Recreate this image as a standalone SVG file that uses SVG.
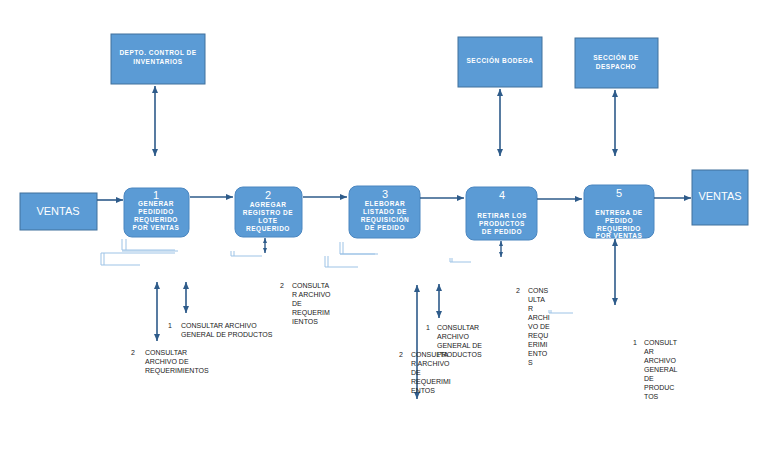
<svg xmlns="http://www.w3.org/2000/svg" width="768" height="466" viewBox="0 0 768 466">
<defs>
<marker id="ah" markerWidth="8" markerHeight="8" refX="7" refY="4" orient="auto-start-reverse" markerUnits="userSpaceOnUse"><path d="M0,1 L7,4 L0,7 Z" fill="#2e5b8a"/></marker>
<marker id="sm" markerWidth="6" markerHeight="6" refX="5" refY="3" orient="auto-start-reverse" markerUnits="userSpaceOnUse"><path d="M0,1 L5,3 L0,5 Z" fill="#2e5b8a"/></marker>
<style>
.ext{fill:#5b9bd5;stroke:#41719c;stroke-width:1}
.proc{fill:#5b9bd5;stroke:#4a86c0;stroke-width:1}
.t{font-family:"Liberation Sans",Arial,sans-serif;fill:#fff;font-weight:bold;font-size:6.5px;text-anchor:middle;letter-spacing:0.5px}
.big{font-family:"Liberation Sans",Arial,sans-serif;fill:#fff;font-size:11px;text-anchor:middle}
.c{stroke:#2e5b8a;stroke-width:1.6;fill:none}
.d{stroke:#2e5b8a;stroke-width:1.6;fill:none;marker-start:url(#ah);marker-end:url(#ah)}
.s{stroke:#2e5b8a;stroke-width:1.4;fill:none;marker-start:url(#sm);marker-end:url(#sm)}
.f{stroke:#9dc3e6;stroke-width:1;fill:none}
.l{font-family:"Liberation Sans",Arial,sans-serif;fill:#222;font-size:7px}
</style>
</defs>
<rect width="768" height="466" fill="#fff"/>
<g id="depto"><rect class="ext" x="111" y="34" width="94" height="50"/><text class="t" x="158" y="55">DEPTO. CONTROL DE</text><text class="t" x="158" y="64">INVENTARIOS</text></g>
<g id="bodega"><rect class="ext" x="458" y="37" width="84" height="50"/><text class="t" x="500" y="63">SECCIÓN BODEGA</text></g>
<g id="despacho"><rect class="ext" x="575" y="38" width="83" height="50"/><text class="t" x="616" y="60">SECCIÓN DE</text><text class="t" x="616" y="69">DESPACHO</text></g>
<g id="ventas1"><rect class="ext" x="20" y="193" width="77" height="37"/><text class="big" x="58" y="215">VENTAS</text></g>
<g id="ventas2"><rect class="ext" x="692" y="170" width="56" height="55"/><text class="big" x="720" y="200">VENTAS</text></g>
<g id="p1"><rect class="proc" x="124" y="188" width="65" height="49" rx="8"/><text class="big" x="156" y="199" font-size="9">1</text><text class="t" x="156" y="206">GENERAR</text><text class="t" x="156" y="214">PEDIDIDO</text><text class="t" x="156" y="222">REQUERIDO</text><text class="t" x="156" y="230">POR VENTAS</text></g>
<g id="p2"><rect class="proc" x="235" y="187" width="67" height="50" rx="8"/><text class="big" x="268" y="199" font-size="9">2</text><text class="t" x="268" y="207">AGREGAR</text><text class="t" x="268" y="215">REGISTRO DE</text><text class="t" x="268" y="223">LOTE</text><text class="t" x="268" y="231">REQUERIDO</text></g>
<g id="p3"><rect class="proc" x="349" y="186" width="71" height="52" rx="8"/><text class="big" x="385" y="198" font-size="9">3</text><text class="t" x="385" y="206">ELEBORAR</text><text class="t" x="385" y="214">LISTADO DE</text><text class="t" x="385" y="222">REQUISICIÓN</text><text class="t" x="385" y="230">DE PEDIDO</text></g>
<g id="p4"><rect class="proc" x="466" y="187" width="71" height="53" rx="8"/><text class="big" x="502" y="199" font-size="9">4</text><text class="t" x="502" y="218">RETIRAR LOS</text><text class="t" x="502" y="226">PRODUCTOS</text><text class="t" x="502" y="234">DE PEDIDO</text></g>
<g id="p5"><rect class="proc" x="584" y="185" width="70" height="53" rx="8"/><text class="big" x="619" y="197" font-size="9">5</text><text class="t" x="619" y="215">ENTREGA DE</text><text class="t" x="619" y="223">PEDIDO</text><text class="t" x="619" y="231">REQUERIDO</text><text class="t" x="619" y="238">POR VENTAS</text></g>
<g id="connectors">
<line class="d" x1="155" y1="86" x2="155" y2="156"/>
<line class="d" x1="500" y1="89" x2="500" y2="156"/>
<line class="d" x1="615" y1="90" x2="615" y2="156"/>
<line class="c" x1="97" y1="200" x2="123" y2="200" marker-end="url(#ah)"/>
<line class="c" x1="190" y1="197" x2="233" y2="197" marker-end="url(#ah)"/>
<line class="c" x1="303" y1="197" x2="347" y2="197" marker-end="url(#ah)"/>
<line class="c" x1="420" y1="198" x2="464" y2="198" marker-end="url(#ah)"/>
<line class="c" x1="537" y1="199" x2="582" y2="199" marker-end="url(#ah)"/>
<line class="c" x1="654" y1="198" x2="691" y2="198" marker-end="url(#ah)"/>
<line class="s" x1="265" y1="238" x2="265" y2="253"/>
<line class="s" x1="501" y1="241" x2="501" y2="257"/>
<line class="d" x1="615" y1="239" x2="615" y2="305"/>
<line class="d" x1="157" y1="282" x2="157" y2="341"/>
<line class="d" x1="186" y1="282" x2="186" y2="313"/>
<line class="d" x1="417" y1="285" x2="417" y2="399"/>
<line class="d" x1="439" y1="284" x2="439" y2="318"/>
</g>
<g id="artifacts">
<path class="f" d="M122,239 V250 H175 M126,239 V250 M122,251 H178"/>
<path class="f" d="M101,253 V265 H140 M104,253 V265 M101,253 H175"/>
<path class="f" d="M231,251 V256 H262 M234,251 V256"/>
<path class="f" d="M340,242 V254 H375 M343,242 V254 M340,254 H378"/>
<path class="f" d="M325,256 V267 H358 M328,256 V267"/>
<path class="f" d="M450,258 V262 H471 M452,258 V262"/>
<path class="f" d="M549,310 V313 H573 M551,310 V313"/>
</g>
<g id="labels" class="l">
<text x="168" y="328">1</text><text x="181" y="328">CONSULTAR ARCHIVO</text><text x="181" y="337">GENERAL DE PRODUCTOS</text>
<text x="131" y="355">2</text><text x="145" y="355">CONSULTAR</text><text x="145" y="364">ARCHIVO DE</text><text x="145" y="373">REQUERIMIENTOS</text>
<text x="280" y="288">2</text><text x="292" y="288">CONSULTA</text><text x="292" y="297">R ARCHIVO</text><text x="292" y="306">DE</text><text x="292" y="315">REQUERIM</text><text x="292" y="324">IENTOS</text>
<text x="426" y="330">1</text><text x="437" y="330">CONSULTAR</text><text x="437" y="339">ARCHIVO</text><text x="437" y="348">GENERAL DE</text><text x="437" y="357">PRODUCTOS</text>
<text x="399" y="357">2</text><text x="411" y="357">CONSULTA</text><text x="411" y="366">R ARCHIVO</text><text x="411" y="375">DE</text><text x="411" y="384">REQUERIMI</text><text x="411" y="393">ENTOS</text>
<text x="516" y="293">2</text><text x="528" y="293">CONS</text><text x="528" y="302">ULTA</text><text x="528" y="311">R</text><text x="528" y="320">ARCHI</text><text x="528" y="329">VO DE</text><text x="528" y="338">REQU</text><text x="528" y="347">ERIMI</text><text x="528" y="356">ENTO</text><text x="528" y="365">S</text>
<text x="633" y="345">1</text><text x="644" y="345">CONSULT</text><text x="644" y="354">AR</text><text x="644" y="363">ARCHIVO</text><text x="644" y="372">GENERAL</text><text x="644" y="381">DE</text><text x="644" y="390">PRODUC</text><text x="644" y="399">TOS</text>
</g>
</svg>
